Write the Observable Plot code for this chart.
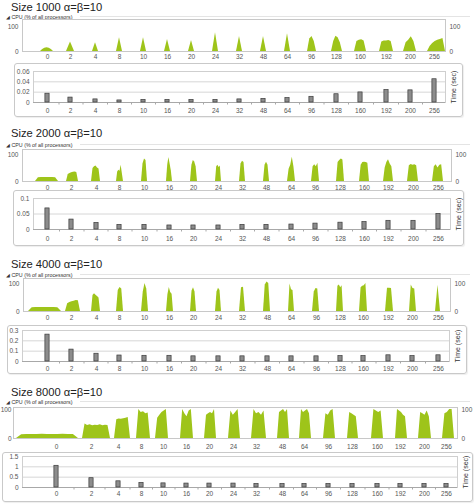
<!DOCTYPE html>
<html>
<head>
<meta charset="utf-8">
<script src="https://cdn.jsdelivr.net/npm/d3@7"></script>
<script src="https://cdn.jsdelivr.net/npm/@observablehq/plot@0.6"></script>
<style>
  body { margin: 0; background: #fff; }
  #root { position: relative; width: 474px; height: 504px; overflow: hidden; font-family: "Liberation Sans", sans-serif; }
  #root > * { position: absolute; }
  .title { font-size: 11.2px; line-height: 12px; color: #222; white-space: nowrap; }
  .cpulab { font-size: 5.3px; line-height: 6px; color: #333; white-space: nowrap; }
  .sep { height: 0; border-top: 1px solid #e4e4e4; }
  .box { border: 1px solid #c9c9c9; border-radius: 3px; box-shadow: 1px 1px 1px rgba(0,0,0,0.07); box-sizing: border-box; }
</style>
</head>
<body>
<div id="root"></div>
<script>
// ---- shared category labels (number of threads / processors) ----
const threads = [0, 2, 4, 8, 10, 16, 20, 24, 32, 48, 64, 96, 128, 160, 192, 200, 256];

// ---- Size 1000 ----  (t = elapsed time, arbitrary profiler units)
const cpuWindow1000 = 423;
const labelT1000 = [25, 48, 73, 97, 121, 145, 169, 193, 217, 241, 265, 289, 314, 338, 364, 388, 412];
const runStart1000 = [18, 44, 70, 94, 118, 142, 166, 190, 214, 238, 262, 285, 309, 332, 357, 381, 405];
const runEnd1000 = [31, 52, 76, 100, 124, 148, 172, 196, 220, 244, 268, 294, 320, 344, 371, 394, 423];
const cpuProfile1000 = [
  [0, 8, 13, 15, 13, 8, 0], [0, 38, 0], [0, 35, 0], [0, 55, 0], [0, 55, 0], [0, 48, 0],
  [0, 44, 0], [0, 75, 0], [0, 60, 0], [0, 60, 0], [0, 71, 0], [0, 50, 60, 40, 0],
  [0, 40, 61, 55, 35, 0], [0, 40, 45, 47, 42, 0], [0, 38, 42, 42, 44, 40, 0],
  [0, 35, 45, 59, 40, 0], [0, 20, 32, 40, 45, 48, 52, 0]
];
const time1000 = [0.017, 0.0095, 0.006, 0.004, 0.005, 0.005, 0.005, 0.005, 0.006, 0.007, 0.0085, 0.011, 0.016, 0.0195, 0.024, 0.0235, 0.045];
const timeTicks1000 = [0, 0.02, 0.04, 0.06];

// ---- Size 2000 ----
const cpuWindow2000 = 429;
const labelT2000 = [25, 49, 74, 97, 122, 147, 171, 196, 220, 244, 269, 293, 318, 342, 366, 391, 416];
const runStart2000 = [13, 44, 69, 94, 119, 144, 168, 193, 217, 241, 265, 289, 314, 337, 361, 385, 410];
const runEnd2000 = [36, 56, 78, 101, 125, 150, 175, 199, 223, 247, 273, 297, 322, 347, 371, 396, 421];
const cpuProfile2000 = [
  [0, 14, 15, 15, 15, 15, 15, 14, 0], [0, 26, 30, 32, 34, 35, 33, 0], [0, 48, 55, 57, 50, 46, 0],
  [0, 35, 42, 38, 60, 30, 0], [0, 65, 83, 78, 0], [0, 60, 89, 65, 40, 0], [0, 60, 78, 72, 55, 0],
  [0, 55, 60, 52, 57, 0], [0, 65, 75, 70, 0], [0, 60, 71, 60, 0], [0, 45, 60, 90, 55, 0],
  [0, 55, 62, 55, 68, 0], [0, 70, 78, 83, 80, 0], [0, 60, 70, 71, 70, 68, 0],
  [0, 50, 70, 81, 65, 55, 0], [0, 58, 63, 60, 62, 58, 0], [0, 55, 62, 50, 60, 62, 0]
];
const time2000 = [0.068, 0.032, 0.021, 0.015, 0.015, 0.013, 0.013, 0.013, 0.015, 0.015, 0.016, 0.019, 0.022, 0.024, 0.028, 0.028, 0.05];
const timeTicks2000 = [0, 0.05, 0.1];

// ---- Size 4000 ----
const cpuWindow4000 = 427;
const labelT4000 = [24, 48, 73, 96, 121, 146, 170, 195, 219, 244, 268, 293, 317, 340, 365, 389, 415];
const runStart4000 = [5, 42, 68, 93, 118, 143, 167, 192, 216, 240, 265, 289, 313, 336, 362, 386, 412];
const runEnd4000 = [38, 57, 77, 100, 125, 150, 173, 198, 222, 247, 271, 296, 320, 344, 370, 393, 417];
const cpuProfile4000 = [
  [0, 13, 14, 14, 14, 14, 14, 14, 13, 0], [0, 28, 32, 35, 37, 39, 38, 0], [0, 57, 63, 58, 54, 48, 0],
  [0, 75, 86, 80, 0], [0, 70, 100, 80, 0], [0, 60, 86, 68, 62, 0], [0, 72, 85, 70, 0],
  [0, 70, 83, 75, 0], [0, 85, 87, 0], [0, 95, 105, 100, 0], [0, 98, 78, 75, 0],
  [0, 70, 82, 80, 0], [0, 90, 95, 85, 92, 0], [0, 85, 90, 92, 100, 0], [0, 83, 83, 82, 0],
  [0, 95, 82, 80, 0], [0, 93, 0]
];
const time4000 = [0.26, 0.115, 0.075, 0.058, 0.055, 0.055, 0.05, 0.05, 0.05, 0.05, 0.05, 0.05, 0.052, 0.052, 0.06, 0.052, 0.06];
const timeTicks4000 = [0, 0.1, 0.2, 0.3];

// ---- Size 8000 ----
const cpuWindow8000 = 444;
const labelT8000 = [43, 78, 105, 128, 150, 173, 196, 220, 243, 269, 291, 315, 339, 364, 387, 411, 433];
const runStart8000 = [3, 69, 101, 123, 142, 167, 191, 215, 238, 264, 286, 310, 334, 358, 382, 405, 429];
const runEnd8000 = [65, 97, 117, 137, 155, 180, 203, 227, 253, 276, 298, 322, 345, 370, 394, 418, 441];
const cpuProfile8000 = [
  [0, 13, 14, 14, 14, 15, 14, 14, 14, 15, 14, 14, 0], [0, 50, 45, 47, 44, 46, 45, 47, 44, 46, 45, 0],
  [0, 65, 67, 66, 68, 70, 72, 0], [0, 100, 90, 92, 85, 88, 0], [0, 70, 80, 90, 95, 100, 0],
  [0, 100, 85, 75, 95, 100, 0], [0, 80, 85, 90, 85, 100, 0], [0, 95, 80, 90, 100, 0],
  [0, 100, 85, 90, 80, 95, 0], [0, 90, 95, 100, 90, 100, 0], [0, 100, 90, 95, 100, 85, 0],
  [0, 85, 80, 95, 100, 0], [0, 90, 85, 80, 75, 0], [0, 100, 95, 90, 95, 0],
  [0, 100, 95, 90, 80, 75, 0], [0, 90, 85, 80, 95, 75, 0], [0, 85, 90, 100, 100, 0]
];
const time8000 = [1.05, 0.45, 0.3, 0.22, 0.2, 0.19, 0.19, 0.19, 0.17, 0.17, 0.17, 0.17, 0.17, 0.17, 0.17, 0.17, 0.17];
const timeTicks8000 = [0, 0.5, 1, 1.5];

// ---- assemble panels from the arrays ----
const panels = [
  {size: 1000, win: cpuWindow1000, labelT: labelT1000, start: runStart1000, end: runEnd1000, prof: cpuProfile1000, time: time1000, ticks: timeTicks1000},
  {size: 2000, win: cpuWindow2000, labelT: labelT2000, start: runStart2000, end: runEnd2000, prof: cpuProfile2000, time: time2000, ticks: timeTicks2000},
  {size: 4000, win: cpuWindow4000, labelT: labelT4000, start: runStart4000, end: runEnd4000, prof: cpuProfile4000, time: time4000, ticks: timeTicks4000},
  {size: 8000, win: cpuWindow8000, labelT: labelT8000, start: runStart8000, end: runEnd8000, prof: cpuProfile8000, time: time8000, ticks: timeTicks8000}
];

// layout (pixels) for each panel
const layout = [
  {titleTop: 1,   cpuLab: 16.5, cpuTop: 19,  cpuBot: 51,  cpuL: 22, cpuR: 445, y100: 26,  cpuDy: 5, pad: 4, boxL: 14, boxT: 63,  boxR: 463, boxB: 117, inL: 33, inR: 445, inTop: 71,  inZero: 102, barDy: 8},
  {titleTop: 127, cpuLab: 145,  cpuTop: 149, cpuBot: 181, cpuL: 22, cpuR: 451, y100: 154, cpuDy: 6, pad: 4, boxL: 13, boxT: 190, boxR: 464, boxB: 246, inL: 33, inR: 450, inTop: 198, inZero: 229, barDy: 9},
  {titleTop: 258, cpuLab: 275,  cpuTop: 278, cpuBot: 311, cpuL: 23, cpuR: 450, y100: 283, cpuDy: 6, pad: 4, boxL: 7,  boxT: 325, boxR: 467, boxB: 374, inL: 22, inR: 449, inTop: 330, inZero: 361, barDy: 7},
  {titleTop: 386, cpuLab: 401.5, cpuTop: 407, cpuBot: 438, cpuL: 13, cpuR: 457, y100: 409, cpuDy: 8, pad: 2, boxL: 2,  boxT: 452, boxR: 473, boxB: 502, inL: 22, inR: 457, inTop: 456, inZero: 487, barDy: 6}
];

const GREEN = "#9ec41a";
const TXT = "#555";
const W = 474;
const root = document.getElementById("root");
const styleBase = {fontSize: "6.5px", fontFamily: "Liberation Sans, sans-serif", color: TXT, background: "transparent", overflow: "visible"};

function place(el, left, top) { el.style.left = left + "px"; el.style.top = top + "px"; root.appendChild(el); return el; }

panels.forEach((p, idx) => {
  const L = layout[idx];

  // title
  const t = document.createElement("div");
  t.className = "title";
  t.textContent = `Size ${p.size} α=β=10`;
  place(t, 11, L.titleTop);

  // CPU header + separator
  const sep = document.createElement("div");
  sep.className = "sep";
  sep.style.width = "390px";
  place(sep, 80, L.cpuLab - 1);
  const c = document.createElement("div");
  c.className = "cpulab";
  c.textContent = "◢ CPU (% of all processors)";
  place(c, 6, L.cpuLab - 3);

  // CPU points
  const pts = [];
  p.prof.forEach((prof, r) => {
    const n = prof.length;
    prof.forEach((v, k) => pts.push({run: r, t: p.start[r] + (p.end[r] - p.start[r]) * k / (n - 1), cpu: v}));
  });
  const labels = threads.map((d, i) => ({label: String(d), t: p.labelT[i], v: p.time[i]}));

  const yMax = 100 * (L.cpuBot - L.cpuTop) / (L.cpuBot - L.y100);
  const cpuSvg = Plot.plot({
    width: W, height: (L.cpuBot - L.cpuTop) + 2 + 12,
    marginTop: 2, marginBottom: 12, marginLeft: L.cpuL, marginRight: W - L.cpuR,
    style: styleBase,
    x: {domain: [0, p.win], axis: null},
    y: {domain: [0, yMax], axis: null},
    marks: [
      Plot.frame({stroke: "#c8c8c8", fill: "#fff"}),
      Plot.areaY(pts, {x: "t", y: "cpu", z: "run", fill: GREEN, curve: "linear"}),
      Plot.axisY({anchor: "left", ticks: [0, 100], tickSize: 0, tickPadding: L.pad, label: null, fill: TXT}),
      Plot.axisY({anchor: "right", ticks: [0, 100], tickSize: 0, tickPadding: 4, label: null, fill: TXT}),
      Plot.text(labels, {x: "t", text: "label", frameAnchor: "bottom", dy: L.cpuDy, lineAnchor: "middle", fill: TXT})
    ]
  });
  place(cpuSvg, 0, L.cpuTop - 2);

  // bar box
  const box = document.createElement("div");
  box.className = "box";
  box.style.width = (L.boxR - L.boxL) + "px";
  box.style.height = (L.boxB - L.boxT) + "px";
  place(box, L.boxL, L.boxT);

  const k = (L.cpuR - L.cpuL) / p.win;  // px per time unit, shared with CPU chart
  const xDom = [(L.inL - L.cpuL) / k, (L.inR - L.cpuL) / k];
  const bounds = d3.pairs(p.labelT).map(([a, b]) => (a + b) / 2);
  const yTop = p.ticks[p.ticks.length - 1];

  const barSvg = Plot.plot({
    width: W, height: L.boxB - L.boxT,
    marginTop: L.inTop - L.boxT, marginBottom: L.boxB - L.inZero, marginLeft: L.inL, marginRight: W - L.inR,
    style: styleBase,
    x: {domain: xDom, axis: null},
    y: {domain: [0, yTop], axis: null},
    marks: [
      Plot.gridY(p.ticks, {stroke: "#d6d6d6", strokeOpacity: 1}),
      Plot.frame({stroke: "#cfcfcf"}),
      Plot.ruleY([0], {stroke: "#a8a8a8"}),
      Plot.ruleX(bounds, {x: d => d, y1: 0, y2: 0, insetBottom: -2.5, stroke: "#a8a8a8"}),
      Plot.rectY(labels, {x1: "t", x2: "t", y: "v", insetLeft: -2.1, insetRight: -2.1, fill: "#8c8c8c", stroke: "#3a3a3a", strokeWidth: 0.7}),
      Plot.axisY({anchor: "left", ticks: p.ticks, tickSize: 0, tickPadding: 4, label: null, tickFormat: d => String(d), fill: TXT}),
      Plot.text(labels, {x: "t", text: "label", frameAnchor: "bottom", dy: L.barDy, lineAnchor: "middle", fill: TXT}),
      Plot.text(["Time (sec)"], {frameAnchor: "right", rotate: -90, dx: 8, textAnchor: "middle", lineAnchor: "middle", fontSize: 7, fill: "#333"})
    ]
  });
  place(barSvg, 0, L.boxT);
});
</script>
</body>
</html>
